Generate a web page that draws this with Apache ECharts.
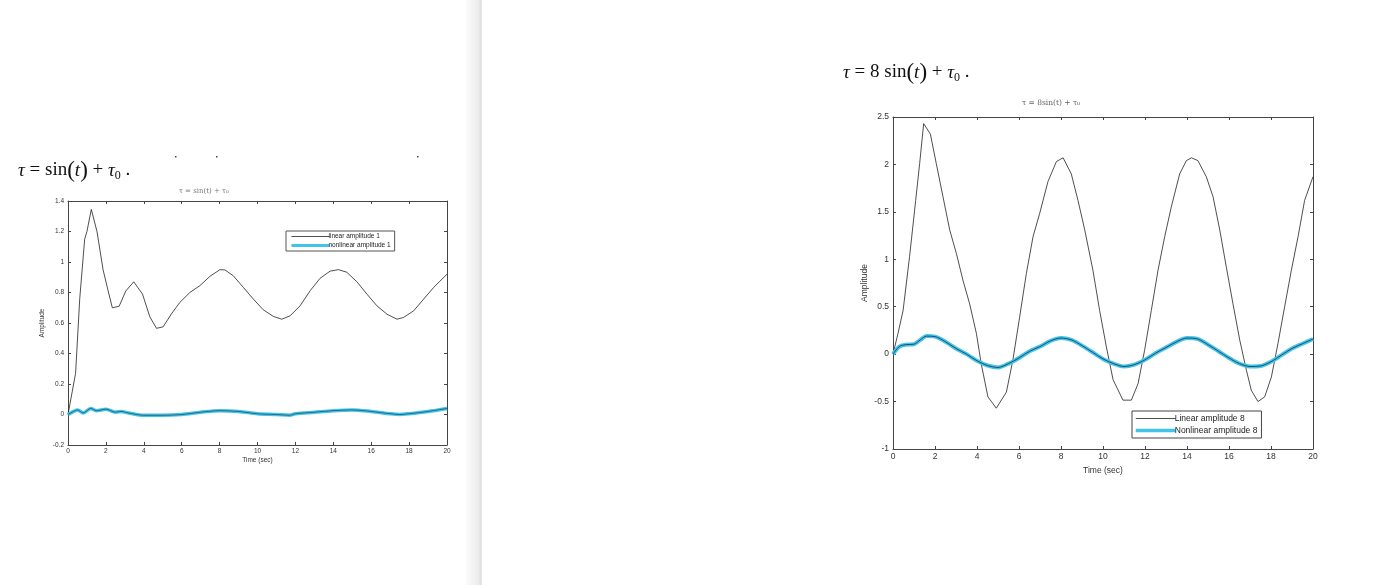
<!DOCTYPE html>
<html>
<head>
<meta charset="utf-8">
<script src="https://cdn.jsdelivr.net/npm/echarts@6/dist/echarts.min.js"></script>
<style>
html,body{margin:0;padding:0;background:#fff;}
#c{width:1382px;height:585px;}
</style>
</head>
<body>
<div id="c"></div>
<script>
// ---- Data ----
const linear1 = [
  [0,0],[0.4,0.27],[0.62,0.76],[0.88,1.15],[1.0,1.2],[1.23,1.345],[1.53,1.2],[1.85,0.95],[2.1,0.82],
  [2.34,0.70],[2.7,0.71],[3.05,0.81],[3.47,0.87],[3.93,0.79],[4.32,0.64],[4.67,0.565],[5.02,0.575],
  [5.46,0.66],[5.9,0.735],[6.43,0.80],[6.96,0.845],[7.49,0.906],[8.02,0.95],[8.28,0.948],[8.72,0.91],
  [9.25,0.834],[9.78,0.757],[10.3,0.687],[10.84,0.643],[11.28,0.625],[11.72,0.647],[12.25,0.713],
  [12.78,0.812],[13.3,0.893],[13.83,0.94],[14.27,0.95],[14.71,0.933],[15.24,0.871],[15.77,0.79],
  [16.3,0.713],[16.83,0.658],[17.36,0.625],[17.7,0.636],[18.24,0.68],[18.77,0.757],[19.3,0.834],[20,0.92]
];
const nonlinear1 = [
  [0,0],[0.3,0.02],[0.5,0.03],[0.8,0.01],[1.2,0.04],[1.5,0.025],[2,0.035],[2.5,0.015],[2.8,0.02],
  [3.2,0.01],[4,-0.005],[5,-0.005],[6,0.0],[7,0.015],[8,0.025],[9,0.02],[10,0.005],[11,0.0],
  [11.7,-0.005],[12,0.005],[13,0.015],[14,0.025],[15,0.03],[16,0.02],[17,0.005],[17.5,0.0],
  [18,0.005],[19,0.02],[20,0.04]
];
const linear8 = [
  [0,0],[0.24,0.22],[0.48,0.46],[0.79,1.03],[1.08,1.62],[1.27,2.01],[1.46,2.43],[1.78,2.32],[2.06,2.01],
  [2.38,1.66],[2.7,1.31],[3.02,1.06],[3.33,0.78],[3.65,0.53],[3.97,0.22],[4.2,-0.1],[4.52,-0.45],
  [4.92,-0.57],[5.4,-0.4],[5.71,-0.06],[6.03,0.39],[6.35,0.85],[6.67,1.24],[6.98,1.48],[7.38,1.82],
  [7.78,2.03],[8.1,2.07],[8.49,1.90],[8.81,1.62],[9.13,1.31],[9.52,0.885],[9.84,0.46],[10.16,0.077],
  [10.48,-0.27],[10.95,-0.485],[11.35,-0.485],[11.67,-0.31],[11.98,0.04],[12.3,0.46],[12.62,0.885],
  [12.94,1.24],[13.25,1.55],[13.65,1.90],[13.97,2.04],[14.21,2.07],[14.52,2.04],[14.92,1.87],
  [15.24,1.66],[15.56,1.31],[15.87,0.92],[16.19,0.53],[16.51,0.15],[16.83,-0.17],[17.06,-0.38],
  [17.38,-0.5],[17.7,-0.45],[18.02,-0.24],[18.33,0.11],[18.65,0.5],[18.97,0.885],[19.29,1.24],
  [19.6,1.62],[20,1.87]
];
const nonlinear8 = [
  [0,0],[0.3,0.08],[0.6,0.1],[1,0.105],[1.3,0.15],[1.6,0.19],[2,0.185],[2.5,0.13],[3,0.06],[3.5,0.0],
  [4,-0.07],[4.5,-0.12],[5,-0.14],[5.5,-0.1],[6,-0.04],[6.5,0.03],[7,0.08],[7.5,0.14],[8,0.17],
  [8.5,0.15],[9,0.09],[9.5,0.02],[10,-0.05],[10.5,-0.1],[11,-0.13],[11.5,-0.11],[12,-0.06],[12.5,0.01],
  [13,0.07],[13.5,0.13],[14,0.17],[14.5,0.16],[15,0.1],[15.5,0.03],[16,-0.04],[16.5,-0.1],[17,-0.13],
  [17.5,-0.125],[18,-0.08],[18.5,-0.01],[19,0.06],[19.5,0.11],[20,0.16]
];
const legendNames = ['linear amplitude 1','nonlinear amplitude 1','Linear amplitude 8','Nonlinear amplitude 8'];
const axisTitles = {x:'Time (sec)', y:'Amplitude'};
const headings = ['sin', '8 sin'];

// ---- Chart ----
const chart = echarts.init(document.getElementById('c'), null, {renderer:'canvas'});
const FONT = 'Liberation Sans, Arial, sans-serif';
const SERIF = 'Liberation Serif, Times New Roman, serif';
const cyan = '#40c4ea', dark = '#1e3f58';

function mkX(gi, fs, pos, show){
  return {type:'value', gridIndex:gi, min:0, max:20, interval:2, position:pos,
    axisLine:{show:true, onZero:false, lineStyle:{color:'#444', width:1}},
    axisTick:{show:true, inside:true, length:3, lineStyle:{color:'#444'}},
    axisLabel:{show:show, color:'#333', fontSize:fs, fontFamily:FONT, margin:3},
    splitLine:{show:false},
    name: show ? axisTitles.x : '', nameLocation:'middle', nameGap: gi===0?12:14,
    nameTextStyle:{color:'#333', fontSize:fs, fontFamily:FONT}};
}
function mkY(gi, fs, pos, show, mn, mx, iv, gap){
  return {type:'value', gridIndex:gi, min:mn, max:mx, interval:iv, position:pos,
    axisLine:{show:true, onZero:false, lineStyle:{color:'#444', width:1}},
    axisTick:{show:true, inside:true, length:3, lineStyle:{color:'#444'}},
    axisLabel:{show:show, color:'#333', fontSize:fs, fontFamily:FONT, margin:4},
    splitLine:{show:false},
    name: show ? axisTitles.y : '', nameLocation:'middle', nameRotate:90, nameGap:gap,
    nameTextStyle:{color:'#333', fontSize:fs, fontFamily:FONT}};
}
function heading(txt){
  return '{i|τ} = ' + txt + '{p|(}{i|t}{p|)} + {i|τ}{s|0} .';
}
const headRich = {
  i:{fontStyle:'italic', fontFamily:SERIF, fontSize:19, fill:'#111'},
  p:{fontFamily:SERIF, fontSize:23, fill:'#111'},
  s:{fontFamily:SERIF, fontSize:12, fill:'#111', padding:[10,0,0,0]}
};

const option = {
  backgroundColor:'#fff',
  animation:false,
  grid:[
    {left:68, top:201, width:379, height:244},
    {left:893, top:117, width:420, height:332}
  ],
  xAxis:[ mkX(0,6.5,'bottom',true), mkX(0,6.5,'top',false), mkX(1,8.5,'bottom',true), mkX(1,8.5,'top',false) ],
  yAxis:[ mkY(0,6.5,'left',true,-0.2,1.4,0.2,22), mkY(0,6.5,'right',false,-0.2,1.4,0.2,22),
          mkY(1,8.5,'left',true,-1,2.5,0.5,24), mkY(1,8.5,'right',false,-1,2.5,0.5,24) ],
  legend:[
    {data:[{name:legendNames[0], lineStyle:{width:0.8, color:'#222'}},
           {name:legendNames[1], lineStyle:{width:3, color:cyan}}],
     orient:'vertical', left:286, top:231, itemGap:2,
     itemWidth:38, itemHeight:6, padding:[2,4,2,4], borderColor:'#555', borderWidth:1, backgroundColor:'#fff',
     itemStyle:{opacity:0},
     textStyle:{fontSize:6.5, fontFamily:FONT, color:'#222', padding:[0,0,0,-6]}},
    {data:[{name:legendNames[2], lineStyle:{width:0.8, color:'#222'}},
           {name:legendNames[3], lineStyle:{width:3.5, color:cyan}}],
     orient:'vertical', left:1132, top:411, itemGap:3,
     itemWidth:40, itemHeight:7, padding:[3,4,3,2], borderColor:'#444', borderWidth:1, backgroundColor:'#fff',
     itemStyle:{opacity:0},
     textStyle:{fontSize:8.5, fontFamily:FONT, color:'#222', padding:[0,0,0,-6]}}
  ],
  series:[
    {name:legendNames[0], type:'line', xAxisIndex:0, yAxisIndex:0, data:linear1, symbol:'none',
     lineStyle:{color:'#222', width:0.8}, itemStyle:{color:'#222'}},
    {name:legendNames[1], type:'line', xAxisIndex:0, yAxisIndex:0, data:nonlinear1, symbol:'none', smooth:0.3,
     lineStyle:{color:cyan, width:3.5}, itemStyle:{color:cyan}},
    {name:'_nl1', type:'line', xAxisIndex:0, yAxisIndex:0, data:nonlinear1, symbol:'none', smooth:0.3,
     lineStyle:{color:dark, width:0.7}},
    {name:legendNames[2], type:'line', xAxisIndex:2, yAxisIndex:2, data:linear8, symbol:'none',
     lineStyle:{color:'#222', width:0.8}, itemStyle:{color:'#222'}},
    {name:legendNames[3], type:'line', xAxisIndex:2, yAxisIndex:2, data:nonlinear8, symbol:'none', smooth:0.3,
     lineStyle:{color:cyan, width:4}, itemStyle:{color:cyan}},
    {name:'_nl8', type:'line', xAxisIndex:2, yAxisIndex:2, data:nonlinear8, symbol:'none', smooth:0.3,
     lineStyle:{color:dark, width:0.9}}
  ],
  graphic:[
    {type:'rect', shape:{x:466, y:0, width:16, height:585}, silent:true, z:-1,
     style:{fill:{type:'linear', x:0, y:0, x2:1, y2:0, colorStops:[
       {offset:0, color:'#fbfbfb'},{offset:0.8, color:'#ececec'},{offset:0.94, color:'#dcdcdc'},{offset:1, color:'#f2f2f2'}]}}},
    {type:'text', left:18, top:159, style:{text:heading(headings[0]), rich:headRich, fontFamily:SERIF, fontSize:19, fill:'#111'}},
    {type:'text', left:843, top:61, style:{text:heading(headings[1]), rich:headRich, fontFamily:SERIF, fontSize:19, fill:'#111'}},
    {type:'text', left:179, top:188, style:{text:'τ = sin(t) + τ₀', fontSize:7, fontFamily:'DejaVu Serif, serif', fill:'#777'}},
    {type:'text', left:1022, top:99, style:{text:'τ = 8sin(t) + τ₀', fontSize:7.5, fontFamily:'DejaVu Serif, serif', fill:'#666'}},
    {type:'rect', shape:{x:175, y:156, width:1.5, height:1.5}, style:{fill:'#444'}},
    {type:'rect', shape:{x:216, y:156, width:1.5, height:1.5}, style:{fill:'#444'}},
    {type:'rect', shape:{x:417, y:156, width:1.5, height:1.5}, style:{fill:'#444'}}
  ]
};
chart.setOption(option);
</script>
</body>
</html>
